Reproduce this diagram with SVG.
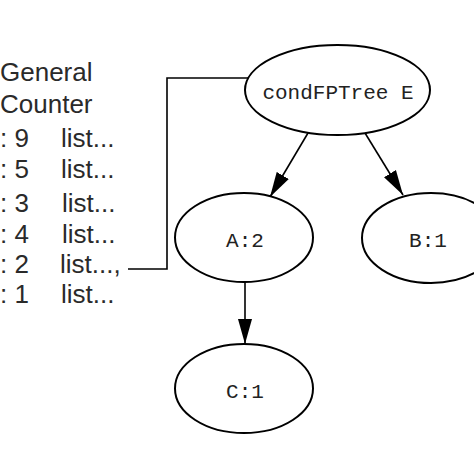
<svg xmlns="http://www.w3.org/2000/svg" width="474" height="474" viewBox="0 0 474 474">
<style>
.lbl{font-family:"Liberation Sans",Arial,sans-serif;font-size:26px;fill:#2a2a2a}
.node ellipse{fill:#fff;stroke:#000;stroke-width:2}
.node text{font-family:"Liberation Mono","Courier New",monospace;font-size:21px;fill:#222;text-anchor:middle}
.edge{stroke:#000;stroke-width:1.6;fill:none}
</style>
<defs>
<marker id="arr" markerUnits="userSpaceOnUse" markerWidth="26" markerHeight="16" refX="25" refY="8" orient="auto">
<path d="M0,1 L25,8 L0,15 z" fill="#000"/>
</marker>
</defs>
<rect width="474" height="474" fill="#fff"/>
<g id="table">
<text class="lbl" x="0" y="81">General</text>
<text class="lbl" x="0" y="113">Counter</text>
<text class="lbl" x="0" y="147">: 9</text><text class="lbl" x="61" y="147">list...</text>
<text class="lbl" x="0" y="178">: 5</text><text class="lbl" x="61" y="178">list...</text>
<text class="lbl" x="0" y="212">: 3</text><text class="lbl" x="62" y="212">list...</text>
<text class="lbl" x="0" y="243">: 4</text><text class="lbl" x="62" y="243">list...</text>
<text class="lbl" x="0" y="273">: 2</text><text class="lbl" x="60" y="273">list...,</text>
<text class="lbl" x="0" y="303">: 1</text><text class="lbl" x="61" y="303">list...</text>
</g>
<g id="connectors">
<polyline class="edge" points="128,269 167,269 167,78 248,78"/>
<line class="edge" x1="308" y1="133" x2="270" y2="197" marker-end="url(#arr)"/>
<line class="edge" x1="365" y1="133" x2="403" y2="195" marker-end="url(#arr)"/>
<line class="edge" x1="245" y1="282" x2="245" y2="344" marker-end="url(#arr)"/>
</g>
<g id="condFPTree" class="node">
<ellipse cx="337.5" cy="90" rx="92.5" ry="45"/>
<text x="338" y="99">condFPTree E</text>
</g>
<g id="A2" class="node">
<ellipse cx="244" cy="237.5" rx="69" ry="44.5"/>
<text x="245" y="247">A:2</text>
</g>
<g id="B1" class="node">
<ellipse cx="431" cy="238" rx="69" ry="45"/>
<text x="428" y="247">B:1</text>
</g>
<g id="C1" class="node">
<ellipse cx="244" cy="388.5" rx="69" ry="44.5"/>
<text x="245" y="398">C:1</text>
</g>
</svg>
